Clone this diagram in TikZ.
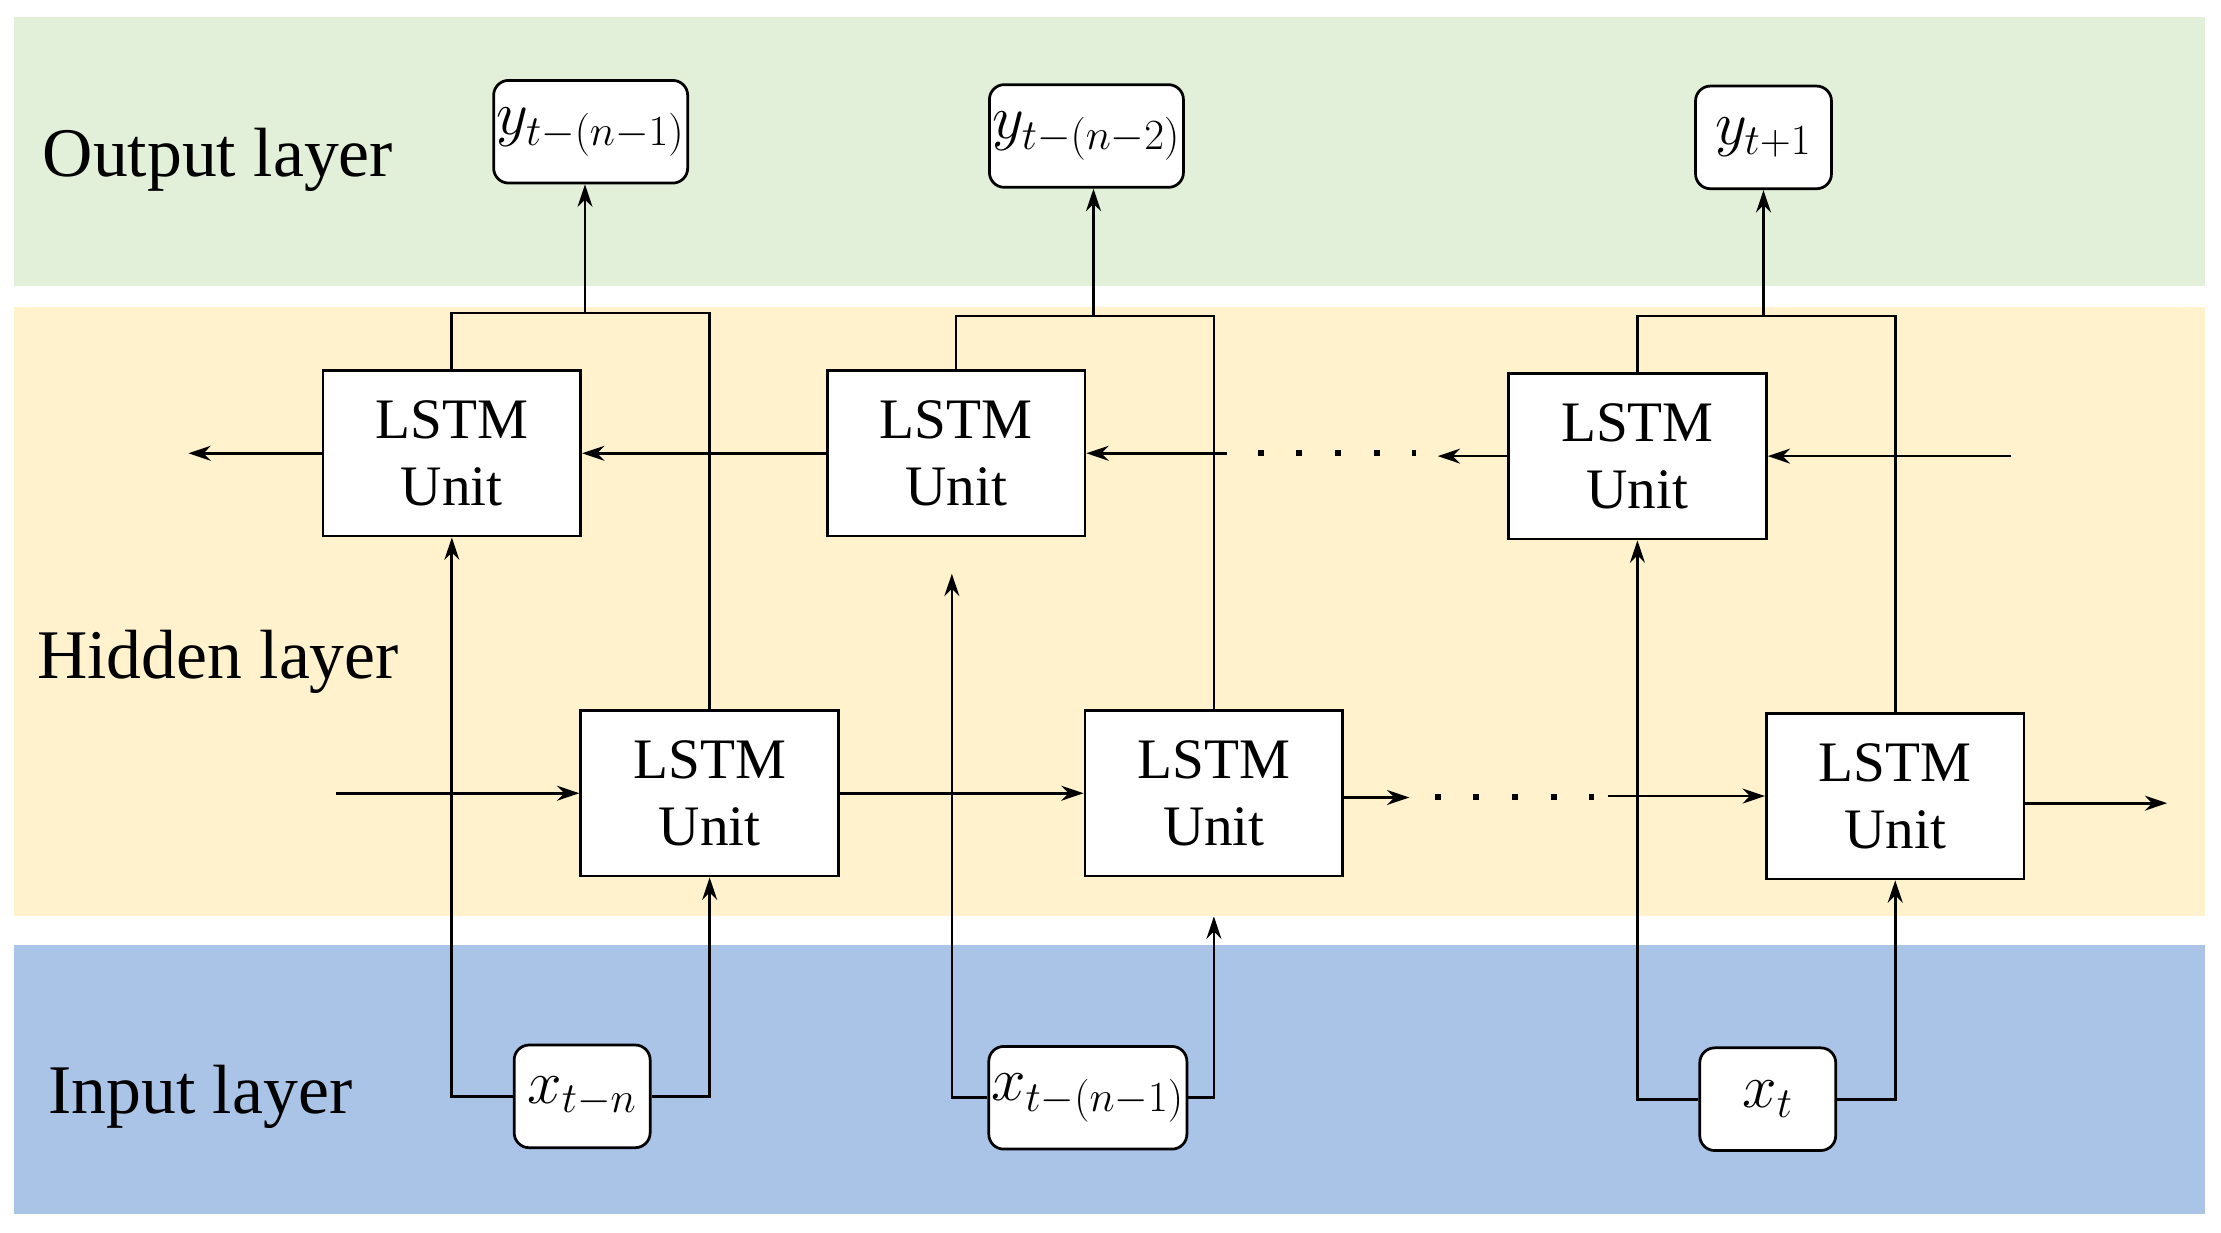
\documentclass[tikz,border=0pt]{standalone}
\usepackage{fontspec}
\setmainfont{Liberation Serif}
\usetikzlibrary{arrows.meta}
\begin{document}
\begin{tikzpicture}[x=0.02cm,y=-0.02cm,
 lstm/.style={draw,line width=1.1pt,fill=white,minimum width=3.64cm,minimum height=2.34cm,align=center,font=\fontsize{23}{27}\selectfont,inner sep=0pt},
 io/.style={draw,line width=1.1pt,fill=white,rounded corners=6pt,minimum height=1.45cm,inner sep=1pt,font=\fontsize{25}{30}\selectfont},
 lay/.style={anchor=west,font=\fontsize{28}{32}\selectfont},
 ar/.style={line width=1.1pt,-{Stealth[length=9pt,width=6pt]}},
 ln/.style={line width=1.1pt}]
\useasboundingbox (0,0) rectangle (1568,870);
\fill[white] (0,0) rectangle (1568,870);
\fill[fill={rgb,255:red,226;green,239;blue,217}] (10,12) rectangle (1557,202);
\fill[fill={rgb,255:red,255;green,242;blue,204}] (10,217) rectangle (1557,647);
\fill[fill={rgb,255:red,169;green,196;blue,230}] (10,667) rectangle (1557,857);
\node[lay] (lo) at (24,113) {Output layer};
\node[lay] (lh) at (20,467) {Hidden layer};
\node[lay] (li) at (28,774) {Input layer};
\node[lstm] (A1) at (319,320) {LSTM\\Unit};
\node[lstm] (A2) at (675,320) {LSTM\\Unit};
\node[lstm] (A3) at (1156,322) {LSTM\\Unit};
\node[lstm] (B1) at (501,560) {LSTM\\Unit};
\node[lstm] (B2) at (857,560) {LSTM\\Unit};
\node[lstm] (B3) at (1338,562) {LSTM\\Unit};
\node[io,minimum width=2.74cm] (Y1) at (417,93) {$y_{t-(n-1)}$};
\node[io,minimum width=2.74cm] (Y2) at (767,96) {$y_{t-(n-2)}$};
\node[io,minimum width=1.92cm] (Y3) at (1245,97) {$y_{t+1}$};
\node[io,minimum width=1.92cm] (X1) at (411,774) {$x_{t-n}$};
\node[io,minimum width=2.74cm] (X2) at (768,775) {$x_{t-(n-1)}$};
\node[io,minimum width=1.92cm] (X3) at (1248,776) {$x_{t}$};
\coordinate (o1) at (413,221); \coordinate (o2) at (772,223); \coordinate (o3) at (1245,223);
\draw[ln] (A1.north) |- (o1) -| (B1.north);
\draw[ar] (o1) -- (o1|-Y1.south);
\draw[ln] (A2.north) |- (o2) -| (B2.north);
\draw[ar] (o2) -- (o2|-Y2.south);
\draw[ln] (A3.north) |- (o3) -| (B3.north);
\draw[ar] (o3) -- (o3|-Y3.south);
\draw[ar] (X1.west) -| (A1.south);
\draw[ar] (X1.east) -| (B1.south);
\coordinate (i2a) at (672,405); \coordinate (i2b) at (857,647);
\draw[ar] (X2.west) -| (i2a);
\draw[ar] (X2.east) -| (i2b);
\draw[ar] (X3.west) -| (A3.south);
\draw[ar] (X3.east) -| (B3.south);
\coordinate (t0) at (133,320); \coordinate (t1) at (866,320); \coordinate (t2) at (1015,322); \coordinate (t3) at (1420,322);
\draw[ar] (A1.west) -- (t0);
\draw[ar] (A2.west) -- (A1.east);
\draw[ar] (t1) -- (A2.east);
\draw[ar] (A3.west) -- (t2);
\draw[ar] (t3) -- (A3.east);
\draw[line width=2.4pt,dash pattern=on 2.4pt off 13.1pt] (888,320) -- (1000,320);
\coordinate (b0) at (237,560); \coordinate (b1) at (995,563); \coordinate (b2) at (1135,562); \coordinate (b3) at (1530,567);
\draw[ar] (b0) -- (B1.west);
\draw[ar] (B1.east) -- (B2.west);
\draw[ar] (B2.east|-b1) -- (b1);
\draw[ar] (b2) -- (B3.west);
\draw[ar] (B3.east|-b3) -- (b3);
\draw[line width=2.4pt,dash pattern=on 2.4pt off 13.1pt] (1013,563) -- (1125,563);
\end{tikzpicture}
\end{document}
